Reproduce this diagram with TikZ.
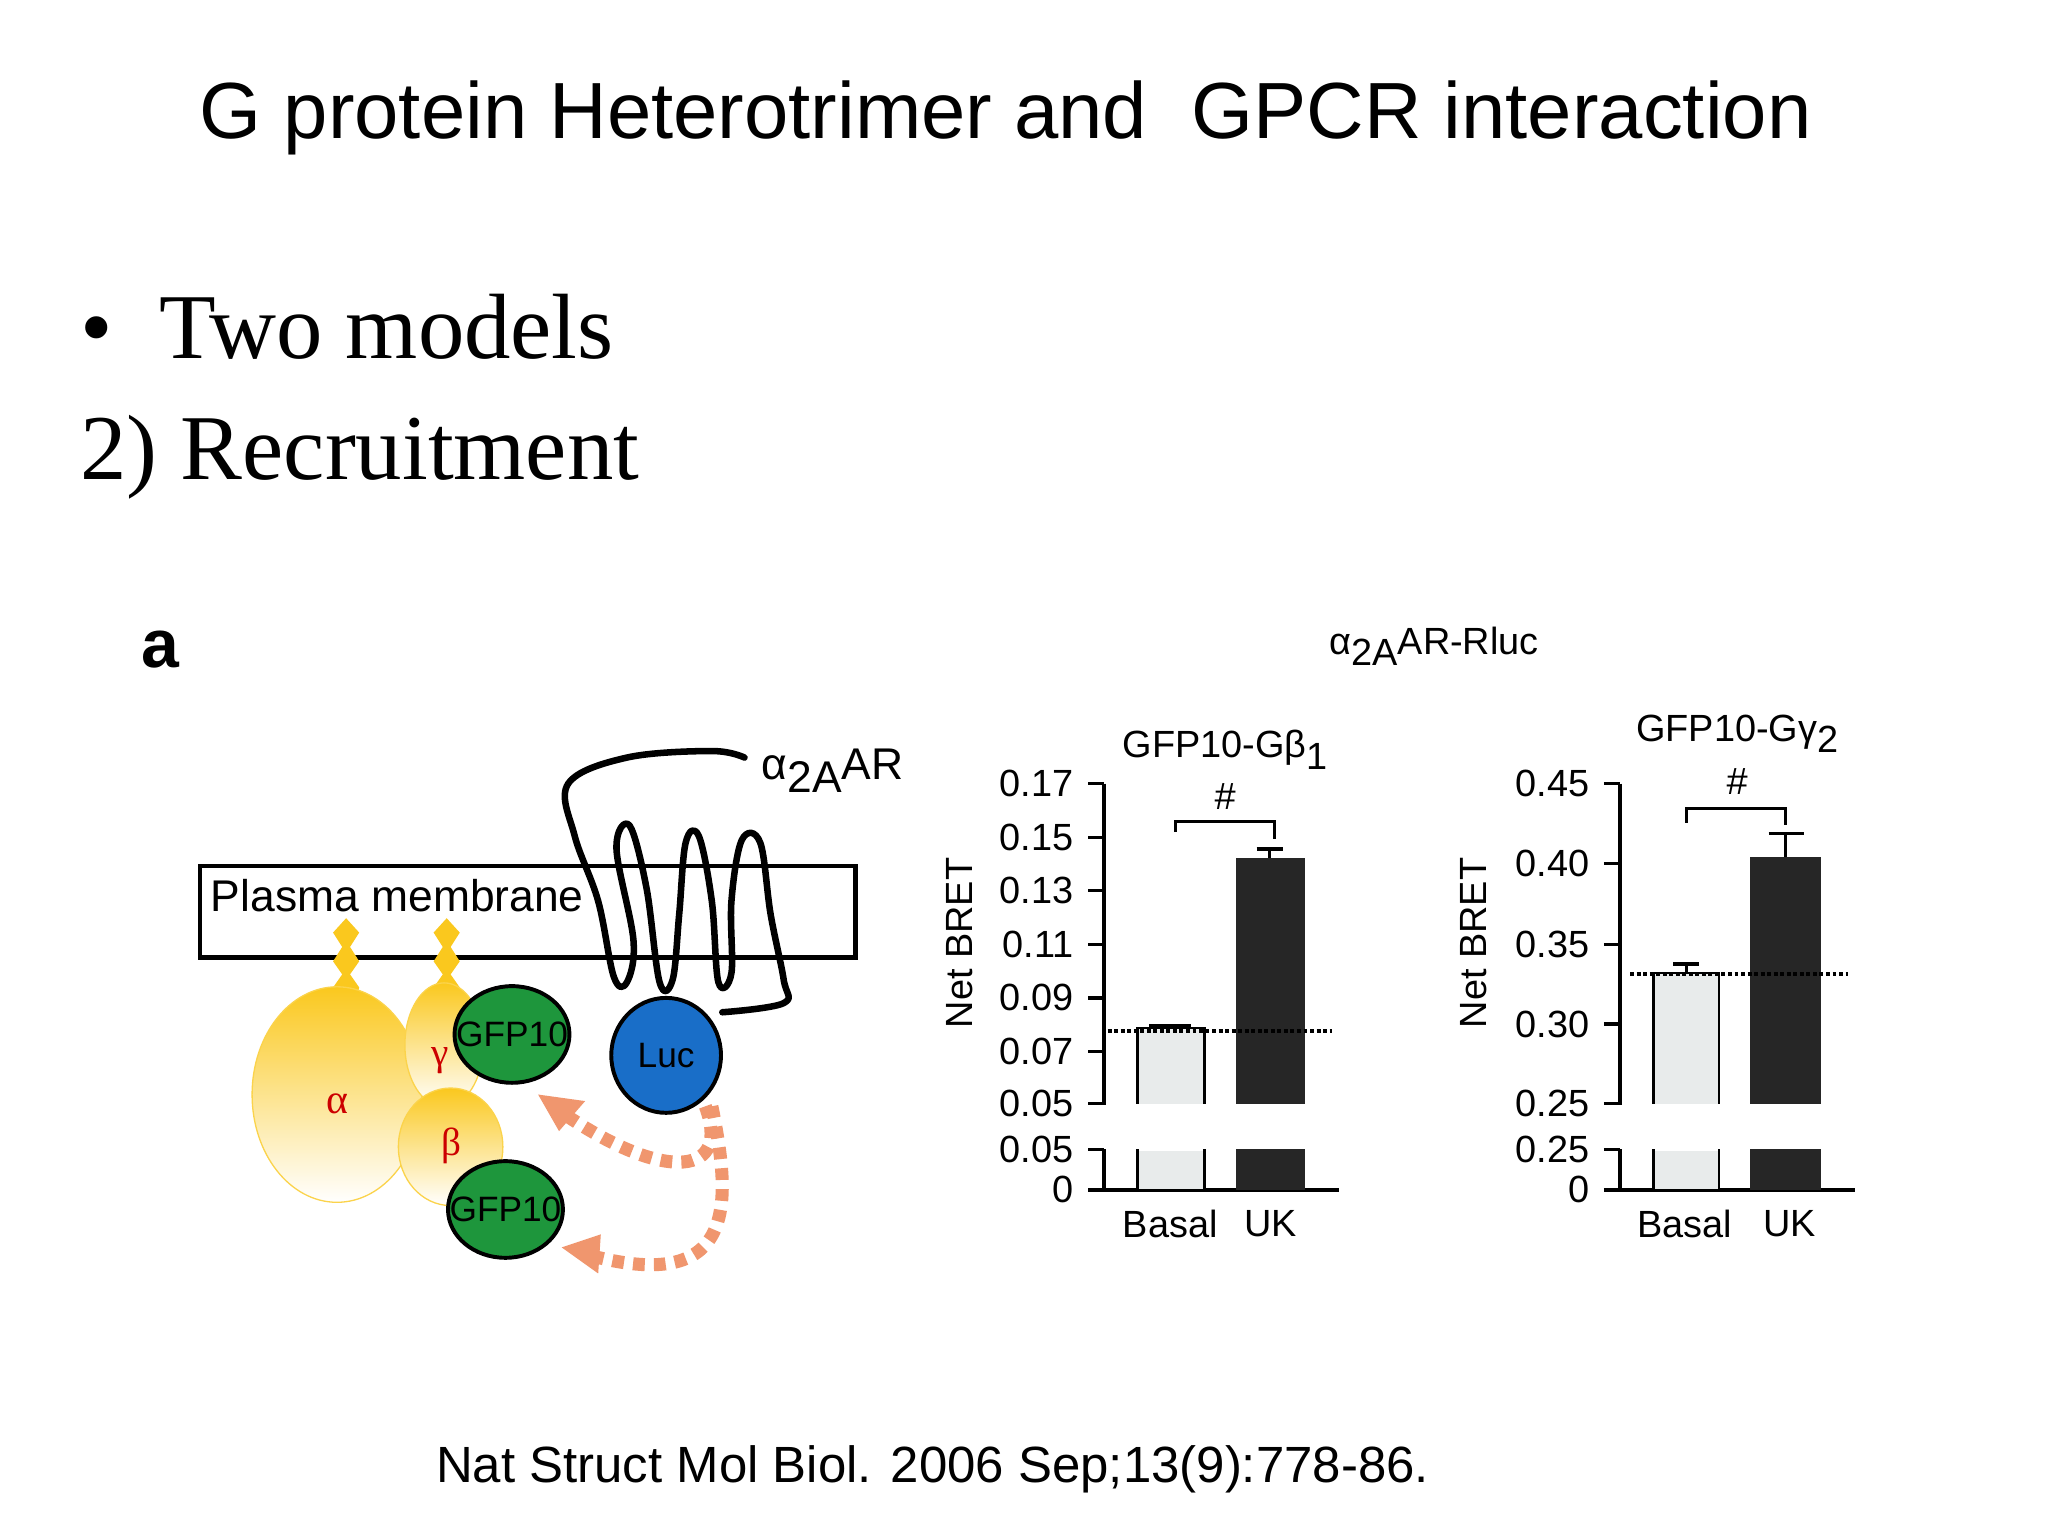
\documentclass[tikz,border=0pt]{standalone}
\usepackage{fontspec}
\setmainfont{Liberation Sans}
\newfontfamily\serifr{Liberation Serif}
\usetikzlibrary{arrows.meta,shapes.geometric}
\definecolor{gold}{RGB}{250,200,30}
\definecolor{gfp}{RGB}{30,150,60}
\definecolor{luc}{RGB}{25,110,200}
\definecolor{arr}{RGB}{240,150,110}
\definecolor{lbar}{RGB}{232,235,235}
\newcommand{\sbs}[1]{\raisebox{-0.3em}{#1}}
\tikzset{
 sub/.style={ellipse, draw=gold!80, line width=1pt, top color=gold, bottom color=white, inner sep=0pt},
 gfpn/.style={ellipse, draw=black, line width=3pt, fill=gfp, inner sep=0pt},
 gtxt/.style={font=\fontsize{27}{27}\selectfont, inner sep=0pt},
 lab/.style={font=\fontsize{29}{29}\selectfont, inner sep=0pt},
 tickl/.style={line width=2.5pt},
 ax/.style={line width=3pt},
 bar/.style={draw=black, line width=2pt},
 odash/.style={line width=10pt, arr, dash pattern=on 9pt off 7pt},
}
\begin{document}
\begin{tikzpicture}[x=1pt,y=-1pt]
\useasboundingbox (0,0) rectangle (1568,1176);
\fill[white] (0,0) rectangle (1568,1176);
\node[font=\fontsize{61}{61}\selectfont] (title) at (770,90) {G protein Heterotrimer and\ \ GPCR interaction};
\node[anchor=west,font=\serifr\fontsize{71}{71}\selectfont] (b1) at (58,250) {•\ \ Two models};
\node[anchor=west,font=\serifr\fontsize{71}{71}\selectfont] (b2) at (58,350) {2) Recruitment};
\node[font=\bfseries\fontsize{52}{52}\selectfont] (a) at (123,497) {a};
\node[font=\fontsize{39}{39}\selectfont] (cite) at (714,1125) {Nat Struct Mol Biol. 2006 Sep;13(9):778-86.};
% membrane
\draw[line width=3.5pt] (153,663) rectangle (655,733);
\node[anchor=west,font=\fontsize{34}{34}\selectfont] (pm) at (158,686) {Plasma membrane};
% anchors
\foreach \x in {265,342}{
 \fill[gold] (\x,703)--(\x+10,714)--(\x+3,725)--(\x+10,736)--(\x+3,746)--(\x+10,756)--(\x+7,770)--(\x-7,770)--(\x-10,756)--(\x-3,746)--(\x-10,736)--(\x-3,725)--(\x-10,714)--cycle;}
\node[sub, minimum width=130pt, minimum height=165pt] (alpha) at (258,838) {};
\node[sub, minimum width=60pt, minimum height=95pt] (gamma) at (340,800) {};
\node[sub, minimum width=80pt, minimum height=90pt] (beta) at (345,878) {};
\node[text=red!80!black,font=\serifr\fontsize{32}{32}\selectfont] at (258,845) {α};
\node[text=red!80!black,font=\serifr\fontsize{30}{30}\selectfont] at (337,812) {γ};
\node[text=red!80!black,font=\serifr\fontsize{30}{30}\selectfont] at (346,877) {β};
\node[gfpn, minimum width=88pt, minimum height=74pt] (g1) at (392,792) {};
\node[gtxt] at (g1) {GFP10};
\node[gfpn, minimum width=88pt, minimum height=74pt] (g2) at (387,926) {};
\node[gtxt] at (g2) {GFP10};
\node[gfpn, fill=luc, minimum width=84pt, minimum height=88pt] (luc) at (510,808) {};
\node[gtxt] at (luc) {Luc};
% receptor
\draw[line width=5pt, line cap=round, line join=round] plot[smooth, tension=0.6] coordinates {
(570,580) (545,575) (480,580) (435,600) (440,640) (458,690) (470,748) (480,752) (485,720) (472,650) (482,632) (495,680) (505,752) (515,750) (520,700) (525,645) (535,640) (545,690) (550,752) (560,745) (560,690) (568,643) (582,645) (590,700) (600,750) (600,768) (553,775)};
\node[anchor=west, lab, font=\fontsize{34}{34}\selectfont] (rec) at (583,590) {α\sbs{2A}AR};
% arrows
\draw[odash] (540,847) .. controls (560,900) and (510,905) .. (435,855);
\fill[arr] (412,838) -- (448,843) -- (428,866) -- cycle;
\draw[odash] (545,847) .. controls (560,920) and (565,990) .. (455,962);
\fill[arr] (430,955) -- (460,945) -- (458,975) -- cycle;
% overall title
\node[lab] (rl) at (1098,495) {α\sbs{2A}AR-Rluc};
% chart 1
\foreach \v/\y in {0.17/600,0.15/641,0.13/682,0.11/723,0.09/764,0.07/805,0.05/845}{
 \draw[tickl] (833,\y) -- (845,\y); \node[lab,anchor=east] at (822,\y) {\v};}
\draw[ax] (845,600) -- (845,846);
\draw[ax] (845,880) -- (845,911) -- (1025,911);
\draw[tickl] (833,880) -- (845,880); \node[lab,anchor=east] at (822,880) {0.05};
\draw[tickl] (833,911) -- (845,911); \node[lab,anchor=east] at (822,911) {0};
\draw[bar,fill=lbar] (871,845) -- (871,787) -- (922,787) -- (922,845);
\fill[lbar] (872,881) rectangle (921,910);
\draw[bar] (871,911) -- (871,880) (922,880) -- (922,911);
\draw[line width=2pt] (880,785) -- (912,785);
\fill[black!85] (946,657) rectangle (999,845);
\fill[black!85] (946,880) rectangle (999,911);
\draw[line width=2.5pt] (972,657) -- (972,650) (962,650) -- (982,650);
\draw[line width=3pt, dotted] (848,789) -- (1020,789);
\draw[line width=2.5pt] (900,637) -- (900,629) -- (976,629) -- (976,642);
\node[lab] at (938,610) {\itshape \#};
\node[lab] (t1) at (938,574) {GFP10-Gβ\sbs{1}};
\node[lab, rotate=90] (n1) at (735,722) {Net BRET};
\node[lab] (ba1) at (896,937) {Basal};
\node[lab] (uk1) at (973,937) {UK};
% chart 2
\foreach \v/\y in {0.45/600,0.40/661,0.35/723,0.30/784,0.25/845}{
 \draw[tickl] (1228,\y) -- (1240,\y); \node[lab,anchor=east] at (1217,\y) {\v};}
\draw[ax] (1240,600) -- (1240,846);
\draw[ax] (1240,880) -- (1240,911) -- (1420,911);
\draw[tickl] (1228,880) -- (1240,880); \node[lab,anchor=east] at (1217,880) {0.25};
\draw[tickl] (1228,911) -- (1240,911); \node[lab,anchor=east] at (1217,911) {0};
\draw[bar,fill=lbar] (1266,845) -- (1266,745) -- (1316,745) -- (1316,845);
\fill[lbar] (1267,881) rectangle (1315,910);
\draw[bar] (1266,911) -- (1266,880) (1316,880) -- (1316,911);
\draw[line width=2.5pt] (1291,745) -- (1291,738) (1281,738) -- (1301,738);
\fill[black!85] (1340,656) rectangle (1394,845);
\fill[black!85] (1340,880) rectangle (1394,911);
\draw[line width=2.5pt] (1367,656) -- (1367,638) (1354,638) -- (1381,638);
\draw[line width=3pt, dotted] (1248,746) -- (1415,746);
\draw[line width=2.5pt] (1291,630) -- (1291,619) -- (1367,619) -- (1367,632);
\node[lab] at (1330,598) {\itshape \#};
\node[lab] (t2) at (1330,562) {GFP10-Gγ\sbs{2}};
\node[lab, rotate=90] (n2) at (1128,722) {Net BRET};
\node[lab] (ba2) at (1290,937) {Basal};
\node[lab] (uk2) at (1370,937) {UK};
\end{tikzpicture}
\end{document}
